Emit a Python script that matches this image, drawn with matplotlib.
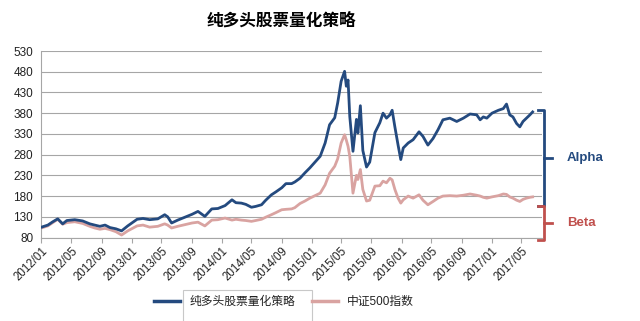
import matplotlib
matplotlib.use("Agg")
import matplotlib.pyplot as plt
import matplotlib.dates as mdates
import matplotlib.transforms as mtransforms
from matplotlib.patches import Rectangle
import pandas as pd

plt.rcParams['font.family'] = ['Liberation Sans', 'Noto Sans CJK SC']

# values
dates = [
    '2012-01-01', '2012-01-27', '2012-02-16', '2012-03-07', '2012-03-27', '2012-04-13',
    '2012-05-15', '2012-06-16', '2012-07-15', '2012-08-04', '2012-08-25', '2012-09-15',
    '2012-10-05', '2012-10-29', '2012-11-21', '2012-12-16', '2013-01-23', '2013-02-16',
    '2013-03-15', '2013-04-17', '2013-05-15', '2013-05-27', '2013-06-12', '2013-07-07',
    '2013-08-05', '2013-09-03', '2013-09-27', '2013-10-25', '2013-11-22', '2013-12-17',
    '2014-01-15', '2014-02-12', '2014-02-28', '2014-03-22', '2014-04-09', '2014-05-02',
    '2014-05-19', '2014-06-12', '2014-06-29', '2014-07-22', '2014-08-09', '2014-09-02',
    '2014-09-19', '2014-10-12', '2014-10-25', '2014-11-15', '2014-12-05', '2014-12-25',
    '2015-01-15', '2015-02-05', '2015-02-25', '2015-03-15', '2015-04-05', '2015-04-17',
    '2015-05-01', '2015-05-15', '2015-05-22', '2015-05-29', '2015-06-05', '2015-06-18',
    '2015-07-02', '2015-07-08', '2015-07-18', '2015-07-28', '2015-08-12', '2015-08-25',
    '2015-09-15', '2015-10-05', '2015-10-18', '2015-11-01', '2015-11-15', '2015-11-24',
    '2015-12-05', '2015-12-18', '2015-12-29', '2016-01-08', '2016-01-28', '2016-02-17',
    '2016-03-12', '2016-03-28', '2016-04-17', '2016-05-08', '2016-05-28', '2016-06-17',
    '2016-07-15', '2016-08-12', '2016-09-08', '2016-10-05', '2016-11-01', '2016-11-15',
    '2016-11-28', '2016-12-12', '2017-01-02', '2017-01-28', '2017-02-17', '2017-03-02',
    '2017-03-15', '2017-03-28', '2017-04-12', '2017-04-25', '2017-05-08', '2017-05-22',
    '2017-06-05', '2017-06-16',
]
strategy = [
    105, 110, 118, 125, 113, 121, 123, 120, 113, 110, 107, 110,
    104, 101, 96, 108, 124, 126, 123, 125, 135, 130, 115, 122,
    129, 136, 143, 131, 149, 150, 157, 171, 164, 163, 160, 153,
    155, 159, 170, 183, 190, 200, 210, 210, 214, 223, 236, 248,
    262, 276, 308, 352, 369, 405, 457, 481, 445, 460, 372, 288,
    365, 332, 398, 290, 250, 262, 333, 357, 380, 368, 376, 387,
    347, 303, 268, 296, 308, 316, 335, 324, 303, 319, 340, 364,
    368, 360, 368, 378, 376, 364, 371, 368, 380, 387, 391, 402,
    376, 371, 355, 347, 360, 368, 376, 383,
]
csi500 = [
    103, 108, 116, 124, 112, 116, 118, 114, 107, 103, 100, 102,
    99, 94, 86, 96, 108, 110, 105, 107, 113, 110, 103, 107,
    111, 115, 117, 108, 122, 123, 127, 122, 124, 122, 121, 119,
    121, 124, 129, 135, 140, 147, 148, 149, 152, 162, 168, 175,
    181, 187, 207, 235, 252, 270, 308, 328, 315, 300, 276, 187,
    230, 220, 244, 196, 168, 170, 204, 205, 216, 212, 223, 219,
    196, 175, 163, 171, 180, 175, 183, 170, 159, 167, 175, 180,
    181, 180, 182, 185, 182, 180, 177, 175, 178, 181, 185, 184,
    178, 175, 170, 167, 172, 175, 177, 178,
]
series_names = ['纯多头股票量化策略', '中证500指数']
title = '纯多头股票量化策略'

blue = '#244a7f'
pink = '#d9a3a1'
red = '#c0504d'
grid_c = '#a6a6a6'

x = pd.to_datetime(dates)

fig = plt.figure(figsize=(6.4, 3.21), dpi=100)
ax = fig.add_axes([0.0648, 0.2601, 0.7813, 0.581])

ax.plot(x, strategy, color=blue, lw=2.0, label=series_names[0], zorder=3)
ax.plot(x, csi500, color=pink, lw=2.0, label=series_names[1], zorder=2)

ax.set_ylim(80, 530)
ax.set_yticks(range(80, 531, 50))
ax.set_xlim(pd.Timestamp('2012-01-01'), pd.Timestamp('2017-07-22'))
ax.xaxis.set_major_locator(mdates.MonthLocator(bymonth=[1, 5, 9]))
ax.xaxis.set_major_formatter(mdates.DateFormatter('%Y/%m'))

ax.grid(axis='y', color=grid_c, lw=0.8)
ax.set_axisbelow(True)
for s in ['top', 'right']:
    ax.spines[s].set_visible(False)
for s in ['left', 'bottom']:
    ax.spines[s].set_color(grid_c)
    ax.spines[s].set_linewidth(0.8)

ax.tick_params(axis='y', length=0, pad=6, labelsize=8.5, labelcolor='#222222')
ax.tick_params(axis='x', length=3.5, color=grid_c, direction='out', pad=2,
               labelsize=8.3, labelcolor='#222222')
for lab in ax.get_xticklabels():
    lab.set_rotation(45)
    lab.set_ha('right')
    lab.set_rotation_mode('anchor')

fig.text(0.44, 0.935, title, ha='center', va='center', fontsize=12,
         fontweight='bold', family=['Noto Sans CJK SC'])

# Alpha / Beta brackets at the right edge
tr = mtransforms.blended_transform_factory(ax.transAxes, ax.transData)
xb, xh, xm = 1.005, 0.993, 1.021
a_top, split, b_bot = 387, 157, 74
ax.plot([xh, xb, xb, xh], [a_top, a_top, split, split], color=blue, lw=2.0,
        transform=tr, clip_on=False)
ax.plot([xb, xm], [(a_top + split) / 2] * 2, color=blue, lw=2.0,
        transform=tr, clip_on=False)
ax.plot([xh, xb, xb, xh], [split, split, b_bot, b_bot], color=red, lw=2.0,
        transform=tr, clip_on=False)
ax.plot([xb, xm], [(split + b_bot) / 2] * 2, color=red, lw=2.0,
        transform=tr, clip_on=False)
ax.text(1.051, (a_top + split) / 2, 'Alpha', color=blue, fontsize=9.5,
        fontweight='bold', va='center', transform=tr)
ax.text(1.051, (split + b_bot) / 2, 'Beta', color=red, fontsize=9.5,
        fontweight='bold', va='center', transform=tr)

leg = fig.legend(loc='center', bbox_to_anchor=(0.444, 0.059), ncol=2,
                 frameon=False, fontsize=8.5, handlelength=2.2,
                 handletextpad=0.8, columnspacing=1.4)
for t in leg.get_texts():
    t.set_color('#222222')
for h in leg.get_lines():
    h.set_linewidth(2.5)

# selection box around the first legend entry, as in the reference
fig.patches.append(Rectangle((183 / 640, -0.01), 129 / 640, 0.107,
                             transform=fig.transFigure, fill=False,
                             edgecolor='#c8c8c8', lw=0.8))

fig.savefig('out.png', dpi=100)
